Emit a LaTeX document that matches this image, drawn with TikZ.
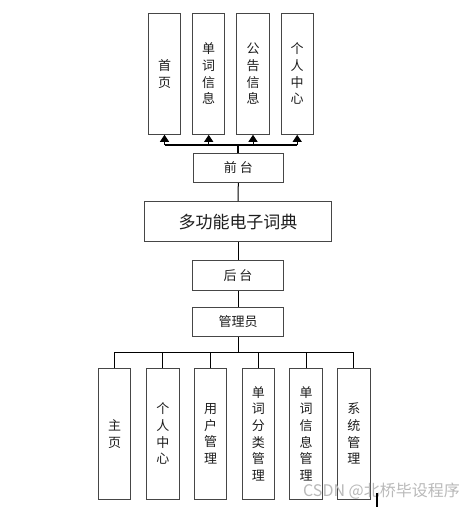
\documentclass[tikz,border=0pt]{standalone}
\usepackage{fontspec}
\setmainfont{Noto Sans CJK SC}
\usetikzlibrary{arrows.meta}
\definecolor{boxgray}{RGB}{70,70,70}
\definecolor{txt}{RGB}{30,30,30}
\definecolor{wm}{RGB}{185,185,185}
\begin{document}
\begin{tikzpicture}[x=1pt,y=-1pt,
  box/.style={draw=boxgray, line width=1pt, fill=white, inner sep=0pt, text=txt, align=center},
  vtop/.style={box, minimum width=32.4pt, minimum height=121pt, font=\fontsize{13}{16.7}\selectfont},
  vbot/.style={box, minimum width=32.5pt, minimum height=131pt, font=\fontsize{13}{16.7}\selectfont},
  hbox/.style={box, minimum width=90.5pt, minimum height=29.4pt, font=\fontsize{13}{16}\selectfont},
  conn/.style={draw=black, line width=1pt},
  bus/.style={draw=black, line width=1.8pt},
  arr/.style={conn, -{Triangle[width=9pt,length=7pt]}}]
\useasboundingbox (0,0) rectangle (474,507);
% top row
\node[vtop] (t1) at (164.5,73.8) {首\\页};
\node[vtop] (t2) at (208.7,73.8) {单\\词\\信\\息};
\node[vtop] (t3) at (253.0,73.8) {公\\告\\信\\息};
\node[vtop] (t4) at (297.2,73.8) {个\\人\\中\\心};
% middle column
\node[hbox] (front) at (238.3,168.0) {前\hspace{3pt}台};
\node[box, minimum width=187.4pt, minimum height=40pt, font=\fontsize{17}{20}\selectfont] (main) at (238.0,221.7) {多功能电子词典};
\node[hbox] (back) at (238.0,275.3) {后\hspace{3pt}台};
\node[hbox] (admin) at (238.0,322.0) {管理员};
% bottom row
\node[vbot] (b1) at (114.7,433.8) {主\\页};
\node[vbot] (b2) at (162.8,433.8) {个\\人\\中\\心};
\node[vbot] (b3) at (210.5,433.8) {用\\户\\管\\理};
\node[vbot] (b4) at (258.3,433.8) {单\\词\\分\\类\\管\\理};
\node[vbot] (b5) at (306.2,433.8) {单\\词\\信\\息\\管\\理};
\node[vbot] (b6) at (353.8,433.8) {系\\统\\管\\理};
% top connectors
\coordinate (tb) at (238.3,145);
\draw[bus] (t1.south |- tb) -- (t4.south |- tb);
\draw[bus] (front.north) -- (tb);
\foreach \n in {t1,t2,t3,t4} \draw[arr] (\n.south |- tb) -- (\n.south);
% middle connectors
\draw[conn] (front.south) -- (main.north);
\draw[conn] (main.south) -- (back.north);
\draw[conn] (back.south) -- (admin.north);
% bottom connectors
\coordinate (bb) at (238.0,352.3);
\draw[conn] (admin.south) -- (bb);
\draw[conn] (b1.north |- bb) -- (b6.north |- bb);
\foreach \n in {b1,b2,b3,b4,b5,b6} \draw[conn] (\n.north |- bb) -- (\n.north);
% watermark
\node[text=wm, font=\fontsize{16}{18}\selectfont, inner sep=0pt] (wmk) at (381.5,491.5) {CSDN @北桥毕设程序};
\coordinate (cur1) at (377.3,493);
\coordinate (cur2) at (377.3,507);
\draw[black, line width=1.8pt] (cur1) -- (cur2);
\end{tikzpicture}
\end{document}
